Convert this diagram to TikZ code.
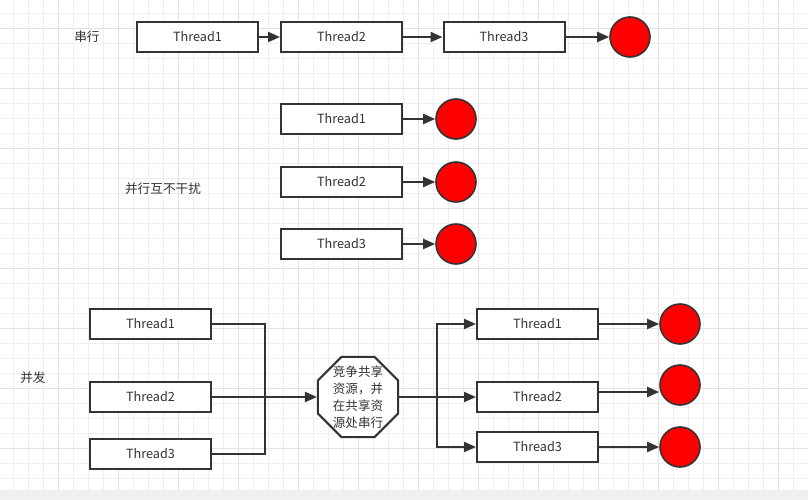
\documentclass[tikz,border=0pt]{standalone}
\usepackage{fontspec}
\setmainfont{Noto Sans CJK SC}
\usetikzlibrary{arrows.meta,shapes.geometric}
\definecolor{ink}{HTML}{333333}
\definecolor{minorgrid}{HTML}{EFEFEF}
\definecolor{majorgrid}{HTML}{E2E2E2}
\definecolor{band}{HTML}{F0F0F0}
\tikzset{
  threadbox/.style={draw=ink,line width=1.5pt,fill=white,minimum width=90.75pt,minimum height=22.5pt,inner sep=0pt,text=ink,font=\fontsize{9.5pt}{11pt}\selectfont},
  dot/.style={circle,draw=ink,line width=1.2pt,fill=red,minimum size=30pt,inner sep=0pt},
  octo/.style={regular polygon,regular polygon sides=8,draw=ink,line width=1.5pt,fill=white,minimum size=65pt,inner sep=0pt},
  tag/.style={text=ink,font=\fontsize{9.5pt}{11pt}\selectfont},
  arr/.style={draw=ink,line width=1.5pt,-{Triangle[length=9pt,width=7.5pt]}},
  wire/.style={draw=ink,line width=1.5pt}
}
\begin{document}
\begin{tikzpicture}[x=0.75pt,y=-0.75pt]

\useasboundingbox (0,0) rectangle (808,500);
\fill[white] (0,0) rectangle (808,490);
\fill[band] (0,490) rectangle (808,500);

% grid
\foreach \gx in {13.3,28.3,...,808} \draw[minorgrid,line width=0.75pt] (\gx,0) -- (\gx,490);
\foreach \gy in {13.3,28.3,...,490} \draw[minorgrid,line width=0.75pt] (0,\gy) -- (808,\gy);
\foreach \gx in {58.3,118.3,...,808} \draw[majorgrid,line width=0.75pt] (\gx,0) -- (\gx,490);
\foreach \gy in {28.3,88.3,...,490} \draw[majorgrid,line width=0.75pt] (0,\gy) -- (808,\gy);

% serial
\node[tag] (serial) at (87,37) {串行};
\node[threadbox] (st1) at (197.5,37) {Thread1};
\node[threadbox] (st2) at (341.5,37) {Thread2};
\node[threadbox] (st3) at (504,37) {Thread3};
\node[dot] (sc) at (630,37) {};

\draw[arr] (st1) -- (st2);
\draw[arr] (st2) -- (st3);
\draw[arr] (st3) -- (sc);

% parallel
\node[tag] (parallel) at (163,189) {并行互不干扰};
\node[threadbox] (pt1) at (341.5,119) {Thread1};
\node[threadbox] (pt2) at (341.5,182) {Thread2};
\node[threadbox] (pt3) at (341.5,244) {Thread3};
\node[dot] (pc1) at (456,119) {};
\node[dot] (pc2) at (456,182) {};
\node[dot] (pc3) at (456,244) {};

\draw[arr] (pt1) -- (pc1);
\draw[arr] (pt2) -- (pc2);
\draw[arr] (pt3) -- (pc3);

% concurrent
\node[tag] (concurrent) at (33,378) {并发};
\node[threadbox] (ct1) at (150.5,324) {Thread1};
\node[threadbox] (ct2) at (150.5,397) {Thread2};
\node[threadbox] (ct3) at (150.5,454) {Thread3};

\node[octo,label={[tag,align=center,font=\fontsize{9.4pt}{12.75pt}\selectfont]center:竞争共享\\资源，并\\在共享资\\源处串行}] (share) at (358,397) {};

\node[threadbox] (cr1) at (537.5,324) {Thread1};
\node[threadbox] (cr2) at (537.5,397) {Thread2};
\node[threadbox] (cr3) at (537.5,447) {Thread3};
\node[dot] (cc1) at (680,324) {};
\node[dot] (cc2) at (680,385) {};
\node[dot] (cc3) at (680,447) {};

\draw[wire] (ct1.east) -- ++(53,0) |- (ct3.east);
\draw[arr] (ct2.east) -- (share.west);
\draw[wire] (share.east) -- ++(38,0) coordinate (split);
\draw[arr] (split) |- (cr1.west);
\draw[arr] (split) -- (cr2.west);
\draw[arr] (split) |- (cr3.west);

\draw[arr] (cr1) -- (cc1);
\draw[arr] ([yshift=3.75pt]cr2.east) -- ([yshift=-5.25pt]cc2.west);
\draw[arr] (cr3) -- (cc3);

\end{tikzpicture}
\end{document}
